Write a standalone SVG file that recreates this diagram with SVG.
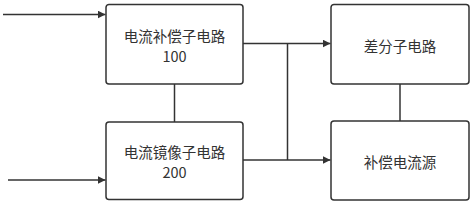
<svg xmlns="http://www.w3.org/2000/svg" width="474" height="205" viewBox="0 0 474 205">
<style>
.box{fill:#fff;stroke:#333;stroke-width:1.5}
.ln{fill:none;stroke:#333;stroke-width:1.5}
text{font-family:"Noto Sans CJK SC","Noto Sans",sans-serif;font-size:14.5px;fill:#333;text-anchor:middle;dominant-baseline:central}
</style>
<defs>
<marker id="ah" viewBox="0 0 10 10" refX="10" refY="5" markerWidth="8" markerHeight="8" markerUnits="userSpaceOnUse" orient="auto">
<path d="M0,0 L10,5 L0,10 z" fill="#333"/>
</marker>
</defs>
<rect width="474" height="205" fill="#fff"/>
<g id="connectors">
<line class="ln" x1="3" y1="14.5" x2="105.5" y2="14.5" marker-end="url(#ah)"/>
<line class="ln" x1="8" y1="180" x2="105.5" y2="180" marker-end="url(#ah)"/>
<line class="ln" x1="174.5" y1="84" x2="174.5" y2="122"/>
<line class="ln" x1="243" y1="43.5" x2="330.5" y2="43.5" marker-end="url(#ah)"/>
<line class="ln" x1="243" y1="160" x2="330.5" y2="160" marker-end="url(#ah)"/>
<line class="ln" x1="287.5" y1="43.5" x2="287.5" y2="160"/>
<line class="ln" x1="400" y1="84" x2="400" y2="121"/>
</g>
<g id="n100">
<rect class="box" x="106" y="4.5" width="137" height="79.5" rx="3"/>
<text x="174.5" y="35"><tspan x="174.5" dy="0">电流补偿子电路</tspan><tspan x="174.5" dy="20">100</tspan></text>
</g>
<g id="n200">
<rect class="box" x="106" y="122" width="137" height="77.5" rx="3"/>
<text x="174.5" y="151"><tspan x="174.5" dy="0">电流镜像子电路</tspan><tspan x="174.5" dy="20">200</tspan></text>
</g>
<g id="diff">
<rect class="box" x="331" y="4.5" width="138" height="79.5" rx="3"/>
<text x="400" y="45">差分子电路</text>
</g>
<g id="src">
<rect class="box" x="331" y="121" width="138" height="79" rx="3"/>
<text x="400" y="161.5">补偿电流源</text>
</g>
</svg>
